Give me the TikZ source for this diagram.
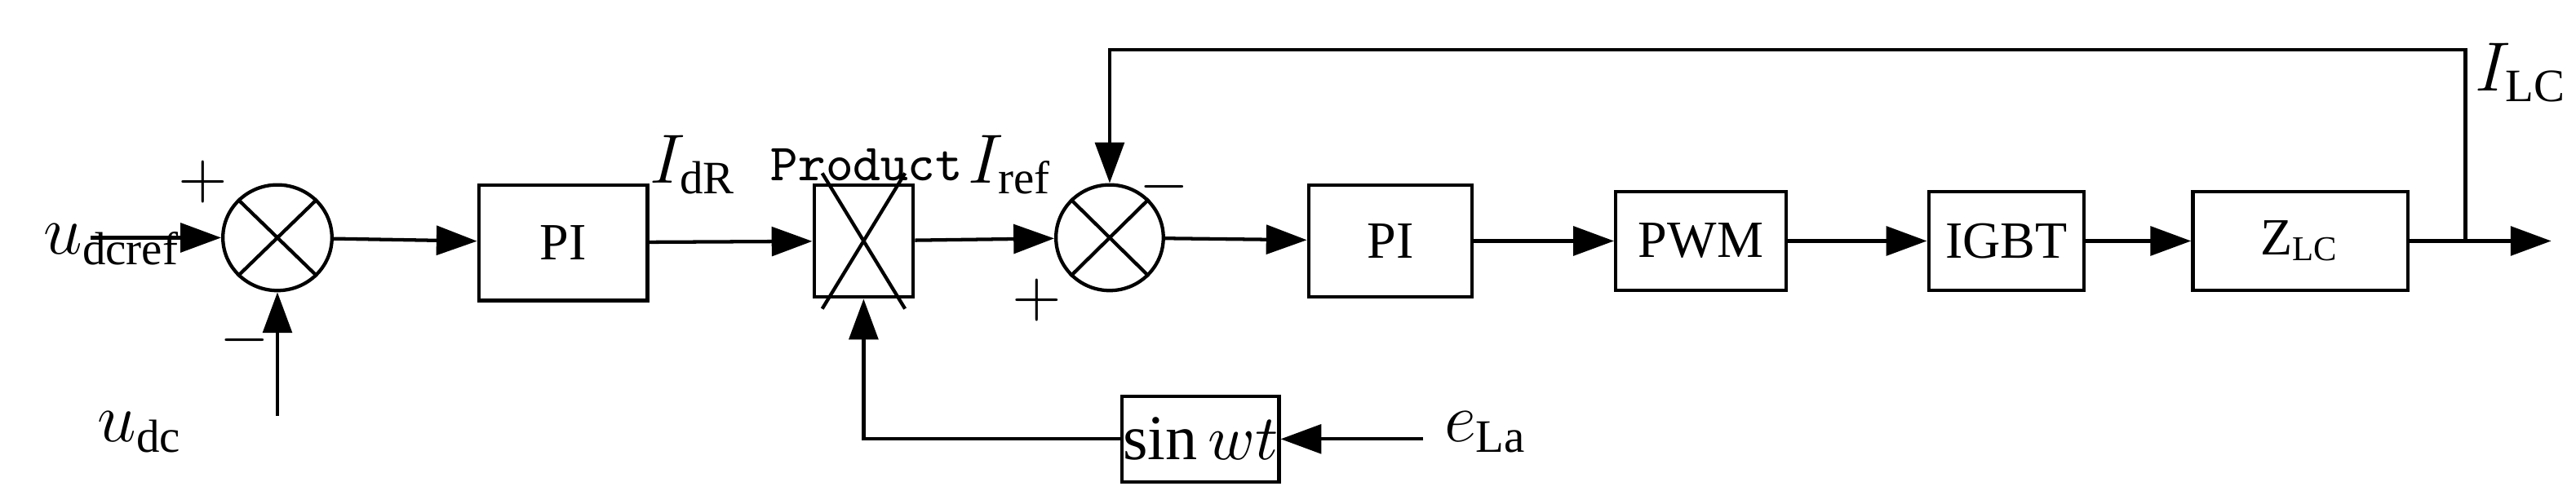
\documentclass[tikz,border=0pt]{standalone}
\usepackage{fontspec}
\setmainfont{Liberation Serif}
\usetikzlibrary{arrows.meta}
\usetikzlibrary{shapes.geometric}
\newcommand{\lab}[1]{\fontsize{12}{14}\selectfont$#1$}

\begin{document}
\begin{tikzpicture}[x=0.01cm,y=-0.01cm]
                \useasboundingbox (0,0) rectangle (1560,305);
                \begin{scope}[every node/.style={rectangle,semithick,draw,inner sep=0pt,font=\fontsize{9}{11}\selectfont}]
                    \node[minimum width=1.02cm,minimum height=0.7cm] (pi1) at (341,147) {PI};
                    \node[minimum width=0.6cm,minimum height=0.68cm] (prod) at (523,146) {};
                    \node[minimum width=0.99cm,minimum height=0.68cm] (pi2) at (842,146) {PI};
                    \node[minimum width=1.03cm,minimum height=0.6cm] (pwm) at (1030,146) {PWM};
                    \node[minimum width=0.94cm,minimum height=0.6cm] (igbt) at (1215,146) {IGBT};
                    \node[minimum width=1.3cm,minimum height=0.6cm] (zlc) at (1393,146) {Z\textsubscript{LC}};
                    \node[minimum width=0.95cm,minimum height=0.52cm,font=\fontsize{11}{13}\selectfont] (sin) at (727,266) {sin$\,wt$};
                    \node[ellipse,minimum width=0.66cm,minimum height=0.64cm] (sum1) at (168,144) {};
                    \node[ellipse,minimum width=0.65cm,minimum height=0.64cm] (sum2) at (672,144) {};
                \end{scope}
                \foreach \n in {sum1,sum2} {
                    \draw[semithick] (\n.north east) -- (\n.south west) (\n.north west) -- (\n.south east);
                }
                \draw[semithick] ([shift={(-6,-6)}]prod.north east) -- ([shift={(6,6)}]prod.south west)
                    ([shift={(6,-6)}]prod.north west) -- ([shift={(-6,6)}]prod.south east);

                \node (udcref) at (68,148) {\lab{u_{\mathrm{dcref}}}};
                \node (udc) at (85,262) {\lab{u_{\mathrm{dc}}}};
                \node (ela) at (900,262) {\lab{e_{\mathrm{La}}}};
                \coordinate (in1) at (55,144);
                \coordinate (in2) at (168,252);
                \coordinate (in3) at (862,266);
                \coordinate (out) at (1545,146);
                \coordinate (tap) at (1493,146);

                \begin{scope}[>={Triangle[length=7pt,width=5pt]},semithick]
                    \draw[->] (in1) -- (sum1);
                    \draw[->] (in2) -- (sum1);
                    \draw[->] (sum1) -- (pi1);
                    \draw[->] (pi1) -- (prod);
                    \draw[->] (prod) -- (sum2);
                    \draw[->] (sum2) -- (pi2);
                    \draw[->] (pi2) -- (pwm);
                    \draw[->] (pwm) -- (igbt);
                    \draw[->] (igbt) -- (zlc);
                    \draw[->] (zlc) -- (out);
                    \draw[->] (tap) |- (672,30) -- (sum2);
                    \draw[->] (in3) -- (sin);
                    \draw[->] (sin) -| (prod);
                \end{scope}

                \node at (123,110) {\fontsize{11}{13}\selectfont$+$};
                \node at (148,206) {\fontsize{11}{13}\selectfont$-$};
                \node at (628,182) {\fontsize{11}{13}\selectfont$+$};
                \node at (705,113) {\fontsize{11}{13}\selectfont$-$};
                \node at (420,100) {\lab{I_{\mathrm{dR}}}};
                \node at (612,100) {\lab{I_{\mathrm{ref}}}};
                \node[font=\ttfamily\fontsize{9}{11}\selectfont] at (525,100) {Product};
                \node at (1527,44) {\lab{I_{\mathrm{LC}}}};
            \end{tikzpicture}
\end{document}
